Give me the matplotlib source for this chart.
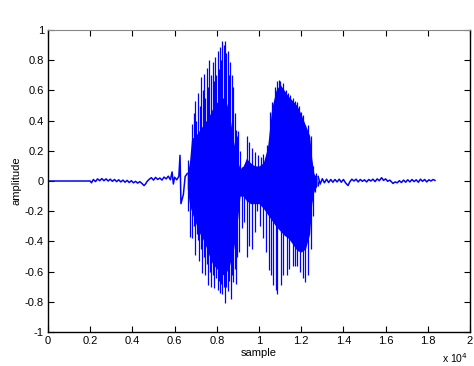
import matplotlib
matplotlib.use("Agg")
import matplotlib.pyplot as plt

# speech waveform (sample index, amplitude)

# quiet parts before and after the word
pre_s = [0, 2000, 2060, 2150, 2250, 2350, 2450, 2550, 2650, 2750, 2850, 2950,
         3050, 3150, 3250, 3350, 3450, 3550, 3650, 3750, 3850, 3950, 4050,
         4150, 4250, 4350, 4450, 4550, 4620, 4700, 4800, 4900, 5000, 5100,
         5200, 5300, 5400, 5500, 5600, 5700, 5800, 5880, 5940, 6000, 6100,
         6200, 6256, 6300, 6414, 6500, 6600]
pre_v = [0, 0, -0.012, 0.010, -0.004, 0.014, 0.002, 0.016, 0.002, 0.014,
         0.000, 0.012, -0.002, 0.010, -0.004, 0.008, -0.006, 0.006, -0.008,
         0.004, -0.010, 0.002, -0.012, -0.002, -0.014, -0.004, -0.016, -0.030,
         -0.020, -0.002, 0.012, 0.022, 0.006, 0.024, 0.010, 0.020, 0.006,
         0.026, 0.014, 0.032, 0.008, 0.060, -0.020, 0.025, 0.008, 0.030,
         0.170, -0.150, -0.090, 0.030, 0.050]

post_s = [12800, 12900, 13000, 13100, 13200, 13300, 13400, 13500, 13600,
          13700, 13800, 13900, 14000, 14100, 14220, 14300, 14400, 14500,
          14600, 14700, 14800, 14900, 15000, 15100, 15200, 15300, 15400,
          15500, 15600, 15700, 15810, 15900, 16000, 16100, 16200, 16350,
          16450, 16550, 16650, 16750, 16850, 16950, 17050, 17150, 17250,
          17350, 17450, 17550, 17650, 17750, 17850, 17950, 18050, 18150,
          18250, 18340]
post_v = [0.030, -0.020, 0.015, -0.012, 0.012, -0.010, 0.010, -0.008, 0.010,
          -0.006, 0.012, -0.008, 0.010, -0.012, -0.030, -0.006, 0.012, 0.000,
          0.012, -0.006, 0.010, -0.002, 0.008, -0.006, 0.010, 0.000, 0.012,
          -0.004, 0.014, 0.002, 0.022, 0.004, 0.014, -0.002, 0.006, -0.016,
          -0.006, -0.012, 0.002, -0.010, 0.006, -0.008, 0.008, -0.006, 0.010,
          -0.004, 0.008, -0.008, 0.012, -0.002, 0.010, -0.006, 0.008, 0.000,
          0.010, 0.004]

# dense voiced core (upper / lower edge of the solid area)
core_s = [6600, 6700, 6800, 7000, 7200, 7400, 7600, 7800, 8000, 8200, 8400,
          8600, 8800, 8950, 9100, 9250, 9400, 9600, 9800, 10000, 10200, 10400,
          10600, 10800, 11000, 11200, 11400, 11600, 11800, 12000, 12200,
          12400, 12500, 12600, 12750]
core_hi = [0.05, 0.12, 0.28, 0.30, 0.34, 0.38, 0.42, 0.48, 0.52, 0.55, 0.55,
           0.44, 0.26, 0.15, 0.08, 0.10, 0.15, 0.12, 0.10, 0.10, 0.12, 0.22,
           0.48, 0.60, 0.64, 0.60, 0.56, 0.53, 0.50, 0.44, 0.37, 0.30, 0.15,
           0.05, 0.02]
core_lo = [-0.05, -0.15, -0.20, -0.28, -0.35, -0.40, -0.48, -0.55, -0.58,
           -0.62, -0.62, -0.56, -0.45, -0.30, -0.10, -0.10, -0.13, -0.15,
           -0.15, -0.15, -0.18, -0.22, -0.26, -0.30, -0.33, -0.36, -0.38,
           -0.42, -0.46, -0.47, -0.45, -0.35, -0.15, -0.07, -0.03]

# pitch-period spikes sticking out of the core
up_s = [6650, 6808, 6900, 6966, 7030, 7093, 7180, 7251, 7330, 7409, 7460,
        7520, 7590, 7646, 7720, 7804, 7860, 7914, 7980, 8040, 8100, 8151,
        8210, 8261, 8330, 8388, 8450, 8514, 8570, 8625, 8700, 8783, 8850,
        8909, 8960, 9020, 9100, 9210,
        9415, 9541, 9652, 9810, 9968, 10078, 10204, 10362, 10520, 10600,
        10757, 10867, 10940, 10994, 11120, 11278, 11380, 11468, 11600, 11705,
        11800, 11910, 12000, 12070, 12180, 12340, 12450, 12545, 12700]
up_v = [0.14, 0.38, 0.45, 0.53, 0.40, 0.58, 0.50, 0.69, 0.60, 0.71, 0.55,
        0.75, 0.62, 0.80, 0.70, 0.79, 0.66, 0.82, 0.70, 0.86, 0.74, 0.89,
        0.80, 0.93, 0.90, 0.93, 0.85, 0.86, 0.70, 0.79, 0.70, 0.62, 0.45,
        0.34, 0.30, 0.33, 0.20, 0.09,
        0.30, 0.26, 0.22, 0.19, 0.17, 0.16, 0.18, 0.24, 0.46, 0.52,
        0.62, 0.66, 0.67, 0.66, 0.65, 0.60, 0.58, 0.57, 0.55, 0.53,
        0.52, 0.50, 0.46, 0.44, 0.37, 0.37, 0.30, 0.10, 0.05]

down_s = [6650, 6730, 6840, 6900, 6966, 7050, 7124, 7172, 7240, 7314, 7380,
          7440, 7520, 7598, 7660, 7725, 7800, 7883, 7960, 8040, 8100, 8151,
          8210, 8261, 8330, 8388, 8450, 8514, 8600, 8672, 8730, 8783, 8850,
          8909, 8980, 9052, 9178, 9304,
          9415, 9541, 9652, 9810, 9890, 10047, 10173, 10331, 10488, 10568,
          10678, 10805, 10867, 11025, 11152, 11310, 11436, 11594, 11705,
          11815, 11943, 12070, 12196, 12340, 12450, 12545, 12654, 12810]
down_v = [-0.20, -0.37, -0.38, -0.30, -0.49, -0.35, -0.39, -0.53, -0.45,
          -0.61, -0.50, -0.62, -0.55, -0.69, -0.60, -0.70, -0.62, -0.71,
          -0.64, -0.72, -0.66, -0.74, -0.68, -0.75, -0.70, -0.81, -0.70,
          -0.73, -0.66, -0.78, -0.62, -0.67, -0.58, -0.68, -0.50, -0.47,
          -0.31, -0.27,
          -0.50, -0.43, -0.45, -0.34, -0.20, -0.30, -0.38, -0.47, -0.59,
          -0.62, -0.69, -0.72, -0.75, -0.69, -0.62, -0.62, -0.58, -0.56,
          -0.56, -0.56, -0.60, -0.64, -0.67, -0.62, -0.45, -0.23, -0.07,
          -0.03]

x_ticks = [0, 2000, 4000, 6000, 8000, 10000, 12000, 14000, 16000, 18000, 20000]
x_labels = ["0", "0.2", "0.4", "0.6", "0.8", "1", "1.2", "1.4", "1.6", "1.8", "2"]
y_ticks = [-1, -0.8, -0.6, -0.4, -0.2, 0, 0.2, 0.4, 0.6, 0.8, 1]
y_labels = ["-1", "-0.8", "-0.6", "-0.4", "-0.2", "0", "0.2", "0.4", "0.6", "0.8", "1"]

plt.rcParams["font.family"] = ["Liberation Sans", "DejaVu Sans"]
blue = "#0000ff"

fig = plt.figure(figsize=(4.74, 3.66), dpi=100)
ax = fig.add_axes([0.1013, 0.0929, 0.8903, 0.8251])

ax.plot(pre_s, pre_v, color=blue, lw=1.1)
ax.plot(post_s, post_v, color=blue, lw=1.1)
ax.fill_between(core_s, core_lo, core_hi, color=blue, lw=0)
ax.vlines(up_s, 0, up_v, color=blue, lw=0.9)
ax.vlines(down_s, down_v, 0, color=blue, lw=0.9)

ax.set_xlim(0, 20000)
ax.set_ylim(-1, 1)
ax.set_xticks(x_ticks)
ax.set_xticklabels(x_labels)
ax.set_yticks(y_ticks)
ax.set_yticklabels(y_labels)
ax.tick_params(direction="in", top=True, right=True, length=4, width=0.8,
               labelsize=8, pad=3)
for side in ["left", "bottom", "right"]:
    ax.spines[side].set_linewidth(1.0)
ax.spines["top"].set_color("#888888")

ax.set_xlabel("sample", fontsize=8, labelpad=1)
ax.set_ylabel("amplitude", fontsize=8, labelpad=2)
fig.text(0.988, 0.003, r"x 10$^4$", fontsize=7.5, ha="right", va="bottom")

fig.savefig("out.png", dpi=100)
